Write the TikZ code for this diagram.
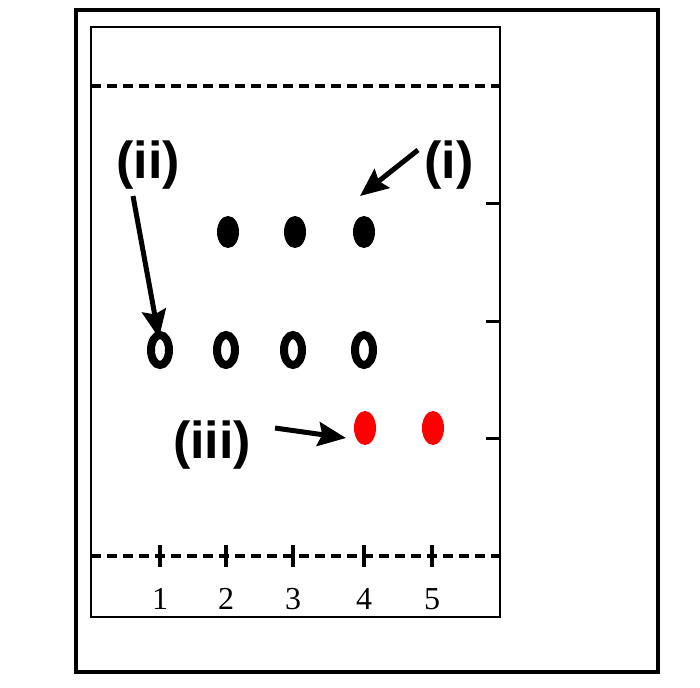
\documentclass[tikz,border=0pt]{standalone}
\usepackage{fontspec}
\setmainfont{Liberation Serif}
\newfontfamily\lab{Liberation Sans}
\usetikzlibrary{arrows.meta}
\begin{document}
\begin{tikzpicture}[x=1pt,y=-1pt,
  dashline/.style={line width=4pt,dash pattern=on 10pt off 6pt},
  arr/.style={line width=5pt,-{Stealth[length=28pt,width=24pt,inset=4pt]}},
  lbl/.style={font=\lab\bfseries\fontsize{52}{52}\selectfont,inner sep=0pt},
  num/.style={font=\fontsize{32}{32}\selectfont,inner sep=0pt},
  ring/.style={draw=black,line width=8pt},
  spot/.style={fill=black}]
\useasboundingbox (0,0) rectangle (700,687);
\fill[white] (0,0) rectangle (700,687);
\draw[line width=4pt] (76,10) rectangle (658,672);
\draw[line width=2pt] (91,27) rectangle (500,617);
\draw[dashline] (91,86) -- (500,86);
\draw[dashline] (91,556) -- (500,556);
\foreach \y in {203,321,438} \draw[line width=3pt] (486,\y) -- (500,\y);
\foreach \x/\n in {160/1,226/2,293/3,364/4,432/5}{
  \draw[line width=3.5pt] (\x,545) -- (\x,567);
  \node[num] (n\n) at (\x,599) {\n};}
\foreach \x/\n in {228/a,295/b,364/c} \fill[spot] (\x,232) ellipse (11pt and 16pt);
\foreach \x in {160,226,293,364} \draw[ring] (\x,350) ellipse (9pt and 15pt);
\foreach \x in {365,433} \fill[red] (\x,428) ellipse (11pt and 17pt);
\node[lbl] (ii) at (148,165) {(ii)};
\node[lbl] (i) at (449,165) {(i)};
\node[lbl] (iii) at (212,445) {(iii)};
\coordinate (ae) at (159,338);
\coordinate (ie) at (360,196);
\coordinate (iiie) at (346,438);
\draw[arr] (133,196) -- (ae);
\draw[arr] (418,150) -- (ie);
\draw[arr] (275,428) -- (iiie);
\end{tikzpicture}
\end{document}
